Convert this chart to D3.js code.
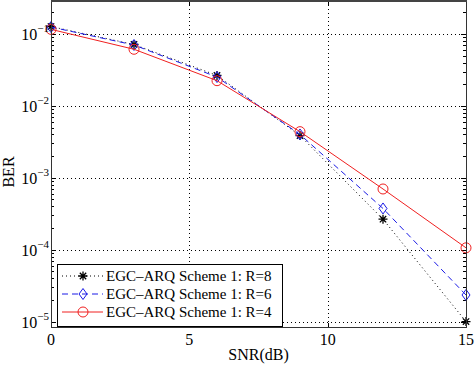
<!DOCTYPE html>
<html>
<head>
<meta charset="utf-8">
<style>
    body { margin: 0; background: #fff; }
    svg { display: block; font-family: 'Liberation Serif', 'DejaVu Serif', serif; }
</style>
</head>
<body>
<svg width="474" height="366"></svg>
<script src="https://d3js.org/d3.v7.min.js"></script>
<script>
    // SNR values (dB)
    let snr = [0, 3, 6, 9, 12, 15];
    // BER per scheme
    let berR8 = [0.127, 0.0714, 0.0265, 0.00386, 2.65e-4, 1.0e-5];
    let berR6 = [0.125, 0.0703, 0.0252, 0.0040, 3.74e-4, 2.34e-5];
    let berR4 = [0.116, 0.0613, 0.0224, 0.00438, 6.98e-4, 1.06e-4];
    let legendLabels = ["EGC\u2013ARQ Scheme 1: R=8", "EGC\u2013ARQ Scheme 1: R=6", "EGC\u2013ARQ Scheme 1: R=4"];
    let xTicks = [0, 5, 10, 15];
    let yExps = [-1, -2, -3, -4, -5];

    let svg = d3.select("svg");
    let margin = {top: 1, right: 8, bottom: 38, left: 51};
    let width = 474, height = 366;

    let x = d3.scaleLinear().domain([0, 15]).range([margin.left, width - margin.right]);
    let y = d3.scaleLog().domain([Math.pow(10, -5.09), Math.pow(10, -0.541)]).range([height - margin.bottom, margin.top]);

    let x0 = x.range()[0], x1 = x.range()[1];
    let yb = y.range()[0], yt = y.range()[1];

    // grid
    let grid = svg.append("g").attr("stroke", "#000").attr("stroke-width", 1).attr("stroke-dasharray", "1,3");
    grid.selectAll(".gx").data(xTicks.slice(1, -1)).join("line")
        .attr("x1", d => Math.round(x(d)) + 0.5).attr("x2", d => Math.round(x(d)) + 0.5)
        .attr("y1", yt).attr("y2", yb);
    grid.selectAll(".gy").data(yExps).join("line")
        .attr("y1", d => Math.round(y(Math.pow(10, d))) + 0.5).attr("y2", d => Math.round(y(Math.pow(10, d))) + 0.5)
        .attr("x1", x0).attr("x2", x1);

    // ticks
    let ticks = svg.append("g").attr("stroke", "#000").attr("stroke-width", 1);
    let minor = [];
    yExps.forEach(e => { for (let m = 1; m < 10; m++) { let v = m * Math.pow(10, e); if (v >= y.domain()[0] && v <= y.domain()[1]) minor.push({v: v, major: m == 1}); } });
    [0, 1].forEach(function (k) { minor.push({v: 2 * Math.pow(10, -1) * (k + 1), major: false}); });
    let yt2 = minor.filter(d => d.v <= y.domain()[1]);
    ticks.selectAll(".tl").data(yt2).join("line")
        .attr("x1", x0).attr("x2", d => x0 + (d.major ? 5 : 3))
        .attr("y1", d => Math.round(y(d.v)) + 0.5).attr("y2", d => Math.round(y(d.v)) + 0.5);
    ticks.selectAll(".tr").data(yt2).join("line")
        .attr("x1", x1).attr("x2", d => x1 - (d.major ? 5 : 3))
        .attr("y1", d => Math.round(y(d.v)) + 0.5).attr("y2", d => Math.round(y(d.v)) + 0.5);
    ticks.selectAll(".tb").data(xTicks).join("line")
        .attr("x1", d => Math.round(x(d)) + 0.5).attr("x2", d => Math.round(x(d)) + 0.5)
        .attr("y1", yb).attr("y2", yb - 5);
    ticks.selectAll(".tt").data(xTicks).join("line")
        .attr("x1", d => Math.round(x(d)) + 0.5).attr("x2", d => Math.round(x(d)) + 0.5)
        .attr("y1", yt).attr("y2", yt + 5);

    // series
    let line = d3.line().x((d, i) => x(snr[i])).y(d => y(d));
    let series = [
        {data: berR8, color: "#000", dash: "1,3", marker: "star"},
        {data: berR6, color: "#1a1ae6", dash: "6,4", marker: "diamond"},
        {data: berR4, color: "#f02020", dash: null, marker: "circle"}
    ];

    function drawMarker(g, type, color, cx, cy) {
        if (type == "circle") {
            g.append("circle").attr("cx", cx).attr("cy", cy).attr("r", 5)
                .attr("fill", "none").attr("stroke", color).attr("stroke-width", 1);
        } else if (type == "diamond") {
            g.append("path").attr("d", `M${cx},${cy - 5.5}L${cx + 4},${cy}L${cx},${cy + 5.5}L${cx - 4},${cy}Z`)
                .attr("fill", "none").attr("stroke", color).attr("stroke-width", 1);
        } else {
            let r = 4.5, p = "";
            for (let a = 0; a < 4; a++) {
                let t = a * Math.PI / 4;
                p += `M${cx - r * Math.cos(t)},${cy - r * Math.sin(t)}L${cx + r * Math.cos(t)},${cy + r * Math.sin(t)}`;
            }
            g.append("path").attr("d", p).attr("stroke", color).attr("stroke-width", 1.3);
        }
    }

    series.forEach(function (s) {
        svg.append("path").datum(s.data).attr("d", line)
            .attr("fill", "none").attr("stroke", s.color).attr("stroke-width", 1)
            .attr("stroke-dasharray", s.dash);
        let g = svg.append("g");
        s.data.forEach((d, i) => drawMarker(g, s.marker, s.color, x(snr[i]), y(d)));
    });

    // axes box
    svg.append("rect").attr("x", x0 + 0.5).attr("y", yt + 0.5).attr("width", x1 - x0).attr("height", yb - yt - 1)
        .attr("fill", "none").attr("stroke", "#333").attr("stroke-width", 1);
    svg.append("line").attr("x1", x0).attr("x2", x1 + 1).attr("y1", 1).attr("y2", 1)
        .attr("stroke", "#444").attr("stroke-width", 2);

    // tick labels
    svg.selectAll(".xl").data(xTicks).join("text")
        .attr("x", d => x(d)).attr("y", 345).attr("text-anchor", "middle")
        .attr("font-size", 16).text(d => d);
    let yl = svg.selectAll(".yl").data(yExps).join("text")
        .attr("x", 40).attr("y", d => y(Math.pow(10, d)) + 6).attr("text-anchor", "end")
        .attr("font-size", 16);
    yl.append("tspan").text("10");
    yl.append("tspan").attr("dy", -8).attr("font-size", 11).text(d => "\u2212" + (-d));
    yl.attr("x", 49);

    // axis titles
    svg.append("text").attr("x", (x0 + x1) / 2).attr("y", 360).attr("text-anchor", "middle")
        .attr("font-size", 16).text("SNR(dB)");
    svg.append("text").attr("transform", "translate(14,172) rotate(-90)").attr("text-anchor", "middle")
        .attr("font-size", 16).text("BER");

    // legend
    let lg = svg.append("g");
    lg.append("rect").attr("x", 57.5).attr("y", 264.5).attr("width", 225).attr("height", 62)
        .attr("fill", "#fff").attr("stroke", "#000").attr("stroke-width", 1);
    series.forEach(function (s, i) {
        let ly = 276 + i * 18;
        lg.append("line").attr("x1", 62).attr("x2", 103).attr("y1", ly).attr("y2", ly)
            .attr("stroke", s.color).attr("stroke-dasharray", s.dash);
        drawMarker(lg, s.marker, s.color, 83, ly);
        lg.append("text").attr("x", 106).attr("y", ly + 5).attr("font-size", 15).text(legendLabels[i]);
    });
</script>
</body>
</html>
